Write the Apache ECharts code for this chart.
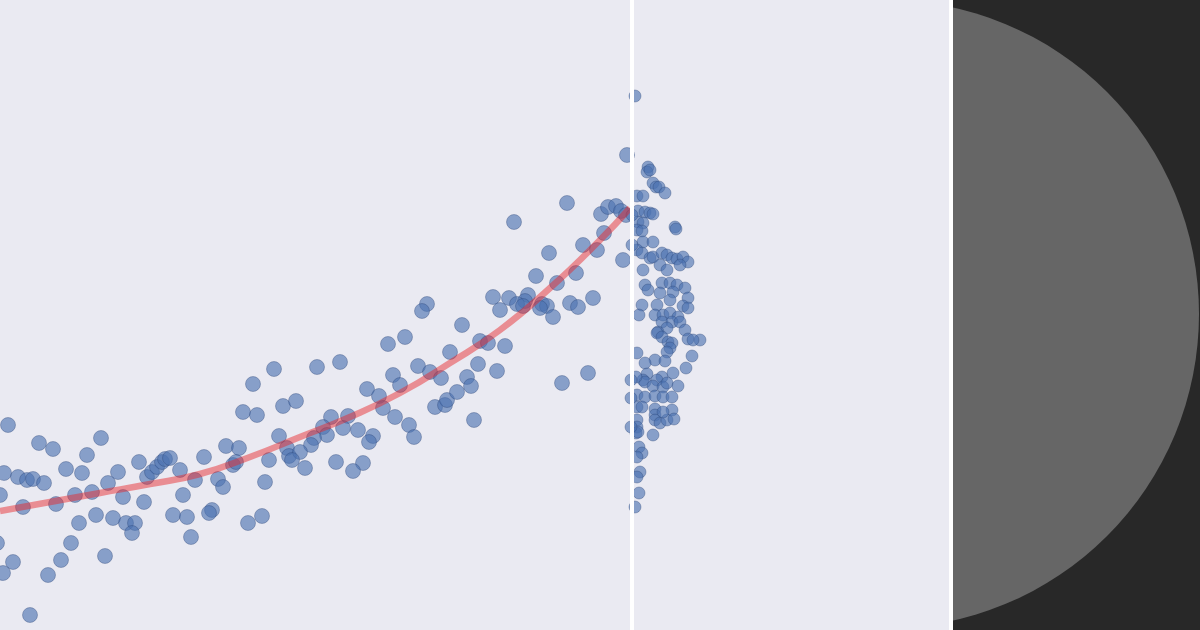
<!DOCTYPE html>
<html>
<head>
<meta charset="utf-8">
<script src="https://cdn.jsdelivr.net/npm/echarts@6/dist/echarts.min.js"></script>
<style>
html,body{margin:0;padding:0;background:#fff;}
#c{width:1200px;height:630px;}
</style>
</head>
<body>
<div id="c"></div>
<script>
const mainX = [8,39,53,101,87,4,18,27,33,44,66,82,0,23,56,75,92,108,118,139,147,152,157,162,165,170,180,195,183,123,144,79,96,113,126,135,132,173,187,191,71,61,13,3,48,105,30,-3,
  388,405,274,317,340,253,418,430,441,450,393,400,367,379,383,243,257,283,296,395,409,414,435,445,447,331,348,323,343,358,373,369,327,314,311,279,226,239,204,287,289,300,292,269,336,363,353,305,233,236,218,223,265,212,209,248,262,
  567,514,601,608,616,621,626,627,604,583,597,549,623,536,576,557,493,509,528,525,517,523,500,542,547,540,553,570,578,593,427,422,462,480,488,505,478,497,467,471,457,474,562,588];
const mainY = [425,443,449,438,455,473,477,480,479,483,469,473,495,507,504,495,492,483,472,462,477,472,467,462,459,458,470,480,495,497,502,523,515,518,523,523,533,515,517,537,543,560,562,573,575,556,615,543,
  344,337,369,367,362,384,366,372,378,352,375,385,389,396,408,412,415,406,401,417,425,437,407,405,400,417,416,427,428,430,436,442,435,438,445,436,446,448,457,448,456,452,460,460,462,463,471,468,465,462,479,487,482,510,513,523,516,
  203,222,214,207,206,211,215,155,233,245,250,253,260,276,273,283,297,298,295,301,304,306,310,304,306,308,317,303,307,298,304,311,325,341,343,346,364,371,377,386,392,420,383,373];

// Fitted curve through panel 1
const curveX = [0,50,100,150,200,250,300,350,400,450,500,550,600,630];
const curveY = [511,502,493,484,474,457,437,417,393,363,330,288,240,208];

// Panel 2: second scatter
const sideX = [635,648,647,650,653,656,659,665,637,643,638,645,650,653,675,676,638,643,637,642,643,653,637,642,650,653,662,667,672,677,683,688,680,660,667,643,
  645,648,662,670,677,685,673,688,660,670,642,639,657,683,688,655,663,670,678,662,672,680,667,658,685,657,662,668,672,688,700,693,670,667,655,645,665,692,686,637,
  647,643,645,662,657,673,653,663,667,678,636,637,645,655,663,672,637,642,655,655,655,660,667,672,674,663,653,637,637,636,638,639,642,637,640,637,639,635,
  631,631,631,632,632];
const sideY = [96,167,172,170,183,187,187,193,196,196,211,212,213,214,227,229,222,223,230,231,242,242,250,253,258,257,253,255,258,259,257,262,265,265,270,270,
  285,290,283,283,285,288,292,298,293,300,305,315,305,306,308,315,315,313,317,322,322,322,328,332,330,333,337,342,343,339,340,340,348,352,360,363,361,356,368,353,
  374,380,382,377,380,373,386,387,383,386,377,395,397,396,397,397,407,407,409,415,420,423,420,410,419,412,435,420,427,433,432,447,453,457,472,477,493,507,
  398,427,380,245,215];

function pairs(xs, ys){ return xs.map((x,i)=>[x, ys[i]]); }

const chart = echarts.init(document.getElementById('c'), null, {renderer:'canvas'});
const ptStyle = {color:'rgba(76,114,176,0.78)', borderColor:'rgba(45,70,120,0.45)', borderWidth:1};

chart.setOption({
  animation:false,
  backgroundColor:'#ffffff',
  grid:[
    {left:0, top:0, width:630, height:630},
    {left:634, top:0, width:316, height:630},
    {left:953, top:0, width:247, height:630}
  ],
  xAxis:[
    {gridIndex:0, type:'value', min:0, max:630, show:false},
    {gridIndex:1, type:'value', min:634, max:950, show:false},
    {gridIndex:2, type:'value', min:0, max:1, show:false}
  ],
  yAxis:[
    {gridIndex:0, type:'value', min:0, max:630, inverse:true, show:false},
    {gridIndex:1, type:'value', min:0, max:630, inverse:true, show:false},
    {gridIndex:2, type:'value', min:0, max:1, show:false}
  ],
  graphic:[
    {type:'rect', z:0, shape:{x:953, y:0, width:247, height:630}, style:{fill:'#282828'}, silent:true},
    {type:'circle', z:1, shape:{cx:885, cy:314, r:314}, style:{fill:'#666666'}, silent:true},
    {type:'rect', z:2, shape:{x:0, y:0, width:630, height:630}, style:{fill:'#EAEAF2'}, silent:true},
    {type:'rect', z:2, shape:{x:634, y:0, width:315, height:630}, style:{fill:'#EAEAF2'}, silent:true},
    {type:'rect', z:2, shape:{x:949, y:0, width:4, height:630}, style:{fill:'#ffffff'}, silent:true},
    {type:'rect', z:10, shape:{x:630, y:0, width:4, height:630}, style:{fill:'#ffffff'}, silent:true},
    {type:'rect', z:10, shape:{x:949, y:0, width:4, height:630}, style:{fill:'#ffffff'}, silent:true}
  ],
  series:[
    {type:'scatter', xAxisIndex:0, yAxisIndex:0, z:5, clip:false, symbolSize:15,
     itemStyle:ptStyle, data:pairs(mainX, mainY)},
    {type:'line', xAxisIndex:0, yAxisIndex:0, z:6, smooth:true, symbol:'none', clip:false,
     lineStyle:{color:'rgba(232,40,44,0.48)', width:6.5}, data:pairs(curveX, curveY)},
    {type:'scatter', xAxisIndex:1, yAxisIndex:1, z:5, clip:false, symbolSize:12,
     itemStyle:ptStyle, data:pairs(sideX, sideY)}
  ]
});
</script>
</body>
</html>
